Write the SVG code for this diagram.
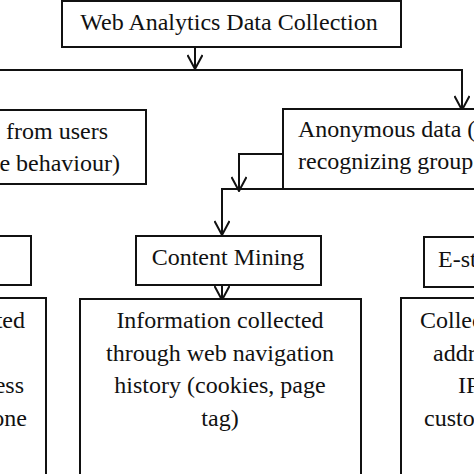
<svg xmlns="http://www.w3.org/2000/svg" width="474" height="474" viewBox="0 0 474 474">
<style>
.box{fill:#fff;stroke:#111;stroke-width:2}
.ln{fill:none;stroke:#111;stroke-width:2}
text{font-family:"Liberation Serif","Times New Roman",serif;font-size:24px;fill:#111}
.m{text-anchor:middle}
.e{text-anchor:end}
</style>
<defs>
<marker id="arr" viewBox="0 0 16 16" refX="15" refY="8" markerWidth="16" markerHeight="16" markerUnits="userSpaceOnUse" orient="auto">
<path d="M1,0.5 L15,8 L1,15.5" fill="none" stroke="#111" stroke-width="2"/>
</marker>
</defs>
<rect width="474" height="474" fill="#fff"/>
<g id="connectors">
<path class="ln" d="M195,47 V69" marker-end="url(#arr)"/>
<path class="ln" d="M0,70 H462 V110" marker-end="url(#arr)"/>
<path class="ln" d="M283,154 H239 V191" marker-end="url(#arr)"/>
<path class="ln" d="M283,189 H222 V235" marker-end="url(#arr)"/>
<path class="ln" d="M222,285 V300" marker-end="url(#arr)"/>
</g>
<g id="node-top">
<rect class="box" x="62" y="1" width="339" height="46"/>
<text class="m" x="229" y="30">Web Analytics Data Collection</text>
</g>
<g id="node-users">
<rect class="box" x="-10" y="110" width="156" height="74"/>
<text class="e" x="108" y="139">from users</text>
<text class="e" x="120" y="171">e behaviour)</text>
</g>
<g id="node-anonymous">
<rect class="box" x="283" y="109" width="200" height="80"/>
<text x="298" y="137">Anonymous data (</text>
<text x="298" y="169">recognizing group</text>
</g>
<g id="node-left-mid">
<rect class="box" x="-10" y="236" width="41" height="49"/>
</g>
<g id="node-left-info">
<rect class="box" x="-10" y="298" width="56" height="190"/>
<text class="e" x="25" y="328">ted</text>
<text class="e" x="24" y="393">ess</text>
<text class="e" x="27" y="425.5">one</text>
</g>
<g id="node-content-mining">
<rect class="box" x="136" y="236" width="185" height="49"/>
<text class="m" x="228" y="265">Content Mining</text>
</g>
<g id="node-content-info">
<rect class="box" x="80" y="299" width="281" height="190"/>
<text class="m" x="220" y="328">Information collected</text>
<text class="m" x="220" y="360.5">through web navigation</text>
<text class="m" x="220" y="393">history (cookies, page</text>
<text class="m" x="220" y="425.5">tag)</text>
</g>
<g id="node-estore">
<rect class="box" x="424" y="237" width="60" height="50"/>
<text x="438" y="267">E-st</text>
</g>
<g id="node-right-info">
<rect class="box" x="401" y="298" width="83" height="190"/>
<text x="420" y="328">Collec</text>
<text x="433" y="360.5">addr</text>
<text x="458" y="393">IP</text>
<text x="424" y="425.5">custo</text>
</g>
</svg>
